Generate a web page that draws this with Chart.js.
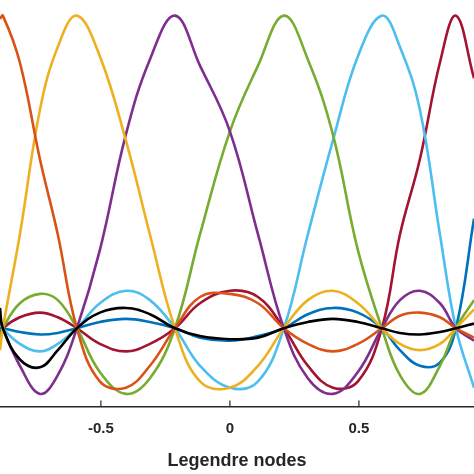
<!DOCTYPE html>
<html><head><meta charset="utf-8">
<script src="https://cdn.jsdelivr.net/npm/chart.js@4"></script>
<style>html,body{margin:0;padding:0;background:#fff}#w{width:474px;height:474px}</style>
</head><body><div id="w"><canvas id="c"></canvas></div>
<script>
const xs = [-0.891,-0.880,-0.814,-0.736,-0.667,-0.593,-0.504,-0.403,-0.310,-0.213,-0.116,0,0.109,0.209,0.302,0.399,0.496,0.589,0.659,0.736,0.814,0.876,0.946];
const xTicks = [-0.5, 0, 0.5];
const black  = [0.065,0,-0.10,-0.125,-0.07,0,0.05,0.065,0.045,0,-0.025,-0.035,-0.03,0,0.02,0.03,0.02,0,-0.015,-0.02,-0.012,0,0.015];
const orange = [0.99,1,0.85,0.54,0.30,0,-0.17,-0.19,-0.12,0,0.10,0.11,0.08,0,-0.05,-0.074,-0.05,0,0.04,0.05,0.035,0,-0.03];
const yellow = [-0.07,0,0.30,0.70,0.90,1,0.87,0.60,0.30,0,-0.17,-0.19,-0.12,0,0.09,0.12,0.08,0,-0.05,-0.07,-0.05,0,0.06];
const purple = [0.03,0,-0.12,-0.21,-0.15,0,0.25,0.62,0.86,1,0.84,0.63,0.30,0,-0.16,-0.21,-0.14,0,0.09,0.12,0.08,0,-0.04];
const green  = [-0.03,0,0.08,0.11,0.09,0,-0.14,-0.21,-0.16,0,0.30,0.63,0.84,1,0.86,0.62,0.25,0,-0.15,-0.21,-0.12,0,0.09];
const cyan   = [0.02,0,-0.05,-0.074,-0.05,0,0.08,0.12,0.09,0,-0.12,-0.19,-0.17,0,0.30,0.60,0.87,1,0.90,0.70,0.30,0,-0.19];
const red    = [-0.02,0,0.035,0.05,0.035,0,-0.05,-0.074,-0.05,0,0.08,0.12,0.10,0,-0.12,-0.19,-0.17,0,0.30,0.54,0.85,1,0.80];
const blue   = [0,0,-0.012,-0.02,-0.015,0,0.02,0.03,0.02,0,-0.03,-0.04,-0.025,0,0.045,0.065,0.05,0,-0.07,-0.12,-0.11,0,0.35];
const series = [
  ['black', black, '#000000'], ['orange', orange, '#D95319'], ['yellow', yellow, '#EDB120'],
  ['purple', purple, '#7E2F8E'], ['green', green, '#77AC30'], ['cyan', cyan, '#4DBEEE'],
  ['red', red, '#A2142F'], ['blue', blue, '#0072BD']
];
const inTicks = {
  id:'inTicks',
  afterDraw(ch){
    const s = ch.scales.x, c = ch.ctx;
    c.save(); c.strokeStyle='#262626'; c.lineWidth=1.2;
    xTicks.forEach(v=>{const p=s.getPixelForValue(v); c.beginPath(); c.moveTo(p,ch.chartArea.bottom); c.lineTo(p,ch.chartArea.bottom-6); c.stroke();});
    c.restore();
  }
};
new Chart(document.getElementById('c'), {
  type:'line',
  data:{datasets: series.map(([n,v,col])=>({label:n, data: xs.map((x,i)=>({x, y:v[i]})), borderColor:col, borderWidth:2.6, pointRadius:0, tension:0.4, fill:false}))},
  options:{
    responsive:true, maintainAspectRatio:false, animation:false,
    layout:{padding:{left:0,right:0,top:0,bottom:0}},
    plugins:{legend:{display:false}, tooltip:{enabled:false}},
    scales:{
      x:{type:'linear', min:-0.891, max:0.946,
        afterBuildTicks(s){ s.ticks = xTicks.map(v=>({value:v})); },
        grid:{display:true, drawOnChartArea:false, drawTicks:false},
        border:{display:true, color:'#262626', width:1.5},
        ticks:{padding:13, color:'#262626', font:{family:'Liberation Sans', size:15, weight:'bold'}, callback:v=>String(v)},
        title:{display:true, text:'Legendre nodes', color:'#262626', padding:{top:0,bottom:2}, font:{family:'Liberation Sans', size:18, weight:'bold'}}
      },
      y:{display:false, min:-0.25, max:1.05}
    }
  },
  plugins:[inTicks]
});
</script></body></html>
